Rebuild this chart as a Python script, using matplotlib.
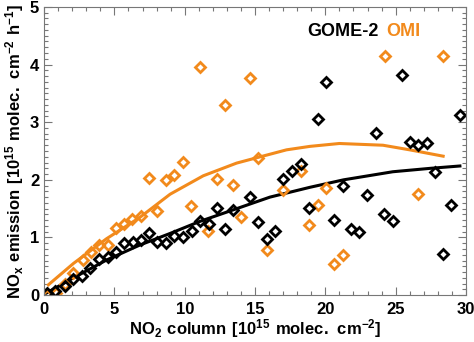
import matplotlib
matplotlib.use('Agg')
import matplotlib.pyplot as plt
from matplotlib.ticker import MultipleLocator

# GOME-2 points
gome_x = [0.2, 0.78, 1.49, 2.09, 2.68, 3.27, 3.93, 4.52, 5.12, 5.71, 6.30, 6.89, 7.49, 8.05,
          8.67, 9.26, 9.86, 10.49, 11.09, 11.75, 12.27, 12.86, 13.46, 14.64, 15.23, 15.83,
          16.42, 17.0, 17.6, 18.24, 18.86, 19.45, 20.04, 20.64, 21.23, 21.82, 22.4, 22.98,
          23.6, 24.19, 24.78, 25.42, 26.0, 26.6, 27.2, 27.79, 28.38, 28.97, 29.57]
gome_y = [0.03, 0.08, 0.15, 0.28, 0.34, 0.47, 0.63, 0.67, 0.74, 0.90, 0.92, 0.95, 1.08, 0.92,
          0.91, 1.02, 1.01, 1.12, 1.28, 1.24, 1.51, 1.14, 1.47, 1.70, 1.26, 0.98,
          1.12, 2.02, 2.15, 2.27, 1.51, 3.05, 3.70, 1.31, 1.90, 1.14, 1.10, 1.73,
          2.81, 1.41, 1.28, 3.81, 2.65, 2.61, 2.64, 2.14, 0.71, 1.56, 3.12]

# OMI points
omi_x = [0.2, 0.85, 1.49, 2.09, 2.75, 3.34, 3.93, 4.52, 5.12, 5.69, 6.28, 6.87, 7.49, 8.05,
         8.67, 9.26, 9.86, 10.45, 11.09, 11.68, 12.27, 12.86, 13.41, 14.0, 14.64, 15.23,
         15.83, 17.01, 18.24, 18.86, 19.45, 20.04, 20.64, 21.23, 24.24, 26.6, 28.38]
omi_y = [0.0, 0.04, 0.19, 0.38, 0.61, 0.75, 0.87, 0.87, 1.16, 1.24, 1.32, 1.38, 2.04, 1.46,
         2.00, 2.08, 2.31, 1.55, 3.95, 1.12, 2.01, 3.29, 1.91, 1.36, 3.77, 2.38,
         0.78, 1.83, 2.16, 1.22, 1.56, 1.85, 0.54, 0.70, 4.15, 1.75, 4.15]

# fitted curves
gome_fit_x = [0.19, 2.09, 4.45, 6.82, 8.96, 11.09, 13.46, 16.06, 18.9, 21.3, 24.8, 27.5, 29.57]
gome_fit_y = [0.04, 0.30, 0.61, 0.87, 1.07, 1.28, 1.48, 1.70, 1.87, 2.00, 2.14, 2.20, 2.24]
omi_fit_x = [0.31, 2.09, 4.45, 6.82, 8.96, 11.32, 13.69, 15.23, 17.24, 18.9, 21.0, 24.1, 26.0, 28.38]
omi_fit_y = [0.18, 0.55, 0.98, 1.35, 1.75, 2.07, 2.29, 2.39, 2.52, 2.58, 2.63, 2.60, 2.52, 2.41]

orange = '#F28A1C'

plt.rcParams['font.family'] = ['Liberation Sans', 'DejaVu Sans']
plt.rcParams['font.weight'] = 'bold'
plt.rcParams['mathtext.fontset'] = 'custom'
plt.rcParams['mathtext.rm'] = 'Liberation Sans:bold'
plt.rcParams['mathtext.bf'] = 'Liberation Sans:bold'
plt.rcParams['mathtext.default'] = 'bf'

fig = plt.figure(figsize=(4.74, 3.42), dpi=100)
ax = fig.add_axes([0.093, 0.137, 0.890, 0.843])

ax.plot(omi_fit_x, omi_fit_y, color=orange, lw=2.2)
ax.plot(gome_fit_x, gome_fit_y, color='black', lw=2.2)
ax.plot(omi_x, omi_y, ls='none', marker='D', ms=5, mfc='none', mec=orange, mew=2)
ax.plot(gome_x, gome_y, ls='none', marker='D', ms=5, mfc='none', mec='black', mew=2)

ax.set_xlim(0, 30)
ax.set_ylim(0, 5)
ax.xaxis.set_major_locator(MultipleLocator(5))
ax.xaxis.set_minor_locator(MultipleLocator(1))
ax.yaxis.set_major_locator(MultipleLocator(1))
ax.yaxis.set_minor_locator(MultipleLocator(0.1))
ax.tick_params(which='both', direction='in', top=True, right=True, colors='#777777',
               labelcolor='black', labelsize=12, width=0.8)
ax.tick_params(which='major', length=6)
ax.tick_params(which='minor', length=3)
ax.tick_params(axis='x', pad=5)
for lbl in ax.get_xticklabels() + ax.get_yticklabels():
    lbl.set_fontweight('bold')
for s in ax.spines.values():
    s.set_color('#777777')
    s.set_linewidth(0.8)

ax.set_xlabel(r'$\mathbf{NO_2\ column\ [10^{15}\ molec.\ cm^{-2}]}$', fontsize=12, labelpad=0)
ax.set_ylabel(r'$\mathbf{NO_x\ emission\ [10^{15}\ molec.\ cm^{-2}\ h^{-1}]}$', fontsize=12, labelpad=3)

ax.text(0.623, 0.915, 'GOME-2', transform=ax.transAxes, fontsize=13, color='black',
        fontweight='bold', va='center')
ax.text(0.81, 0.915, 'OMI', transform=ax.transAxes, fontsize=13, color=orange,
        fontweight='bold', va='center')

fig.savefig('out.png', dpi=100)
